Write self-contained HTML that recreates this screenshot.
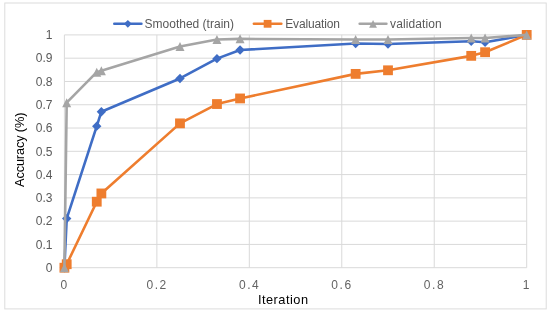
<!DOCTYPE html>
<html><head><meta charset="utf-8"><title>Accuracy chart</title>
<style>
html,body{margin:0;padding:0;background:#fff;}
body{width:550px;height:314px;overflow:hidden;}
svg{display:block;font-family:"Liberation Sans",sans-serif;}
</style></head><body>
<svg width="550" height="314" viewBox="0 0 550 314">
<rect x="0" y="0" width="550" height="314" fill="#ffffff"/>
<rect x="4.8" y="3" width="541.4" height="305.9" fill="#ffffff" stroke="#DCDCDC" stroke-width="1"/>
<line x1="64.40" y1="267.70" x2="526.70" y2="267.70" stroke="#D9D9D9" stroke-width="1"/>
<line x1="64.40" y1="244.42" x2="526.70" y2="244.42" stroke="#D9D9D9" stroke-width="1"/>
<line x1="64.40" y1="221.14" x2="526.70" y2="221.14" stroke="#D9D9D9" stroke-width="1"/>
<line x1="64.40" y1="197.86" x2="526.70" y2="197.86" stroke="#D9D9D9" stroke-width="1"/>
<line x1="64.40" y1="174.58" x2="526.70" y2="174.58" stroke="#D9D9D9" stroke-width="1"/>
<line x1="64.40" y1="151.30" x2="526.70" y2="151.30" stroke="#D9D9D9" stroke-width="1"/>
<line x1="64.40" y1="128.02" x2="526.70" y2="128.02" stroke="#D9D9D9" stroke-width="1"/>
<line x1="64.40" y1="104.74" x2="526.70" y2="104.74" stroke="#D9D9D9" stroke-width="1"/>
<line x1="64.40" y1="81.46" x2="526.70" y2="81.46" stroke="#D9D9D9" stroke-width="1"/>
<line x1="64.40" y1="58.18" x2="526.70" y2="58.18" stroke="#D9D9D9" stroke-width="1"/>
<line x1="64.40" y1="34.90" x2="526.70" y2="34.90" stroke="#D9D9D9" stroke-width="1"/>
<line x1="64.40" y1="34.90" x2="64.40" y2="267.70" stroke="#D9D9D9" stroke-width="1"/>
<line x1="156.86" y1="34.90" x2="156.86" y2="267.70" stroke="#D9D9D9" stroke-width="1"/>
<line x1="249.32" y1="34.90" x2="249.32" y2="267.70" stroke="#D9D9D9" stroke-width="1"/>
<line x1="341.78" y1="34.90" x2="341.78" y2="267.70" stroke="#D9D9D9" stroke-width="1"/>
<line x1="434.24" y1="34.90" x2="434.24" y2="267.70" stroke="#D9D9D9" stroke-width="1"/>
<line x1="526.70" y1="34.90" x2="526.70" y2="267.70" stroke="#D9D9D9" stroke-width="1"/>
<polyline points="64.40,267.70 66.71,218.58 96.76,126.16 101.38,111.72 179.98,78.43 216.96,58.65 240.07,50.03 355.65,43.51 388.01,43.98 471.22,41.30 485.09,42.19 526.70,34.90" fill="none" stroke="#3F6DC5" stroke-width="2.6" stroke-linejoin="round" stroke-linecap="round"/>
<polygon points="64.40,263.00 69.10,267.70 64.40,272.40 59.70,267.70" fill="#3F6DC5"/>
<polygon points="66.71,213.88 71.41,218.58 66.71,223.28 62.01,218.58" fill="#3F6DC5"/>
<polygon points="96.76,121.46 101.46,126.16 96.76,130.86 92.06,126.16" fill="#3F6DC5"/>
<polygon points="101.38,107.02 106.08,111.72 101.38,116.42 96.68,111.72" fill="#3F6DC5"/>
<polygon points="179.98,73.73 184.68,78.43 179.98,83.13 175.28,78.43" fill="#3F6DC5"/>
<polygon points="216.96,53.95 221.66,58.65 216.96,63.35 212.26,58.65" fill="#3F6DC5"/>
<polygon points="240.07,45.33 244.77,50.03 240.07,54.73 235.37,50.03" fill="#3F6DC5"/>
<polygon points="355.65,38.81 360.35,43.51 355.65,48.21 350.95,43.51" fill="#3F6DC5"/>
<polygon points="388.01,39.28 392.71,43.98 388.01,48.68 383.31,43.98" fill="#3F6DC5"/>
<polygon points="471.22,36.60 475.92,41.30 471.22,46.00 466.52,41.30" fill="#3F6DC5"/>
<polygon points="485.09,37.49 489.79,42.19 485.09,46.89 480.39,42.19" fill="#3F6DC5"/>
<polygon points="526.70,30.20 531.40,34.90 526.70,39.60 522.00,34.90" fill="#3F6DC5"/>
<polyline points="64.40,267.70 66.71,264.21 96.76,201.70 101.38,193.44 179.98,123.36 216.96,104.04 240.07,98.45 355.65,73.89 388.01,70.29 471.22,55.85 485.09,52.20 526.70,34.90" fill="none" stroke="#EE7D2E" stroke-width="2.6" stroke-linejoin="round" stroke-linecap="round"/>
<rect x="59.50" y="262.80" width="9.80" height="9.80" fill="#EE7D2E"/>
<rect x="61.81" y="259.31" width="9.80" height="9.80" fill="#EE7D2E"/>
<rect x="91.86" y="196.80" width="9.80" height="9.80" fill="#EE7D2E"/>
<rect x="96.48" y="188.54" width="9.80" height="9.80" fill="#EE7D2E"/>
<rect x="175.08" y="118.46" width="9.80" height="9.80" fill="#EE7D2E"/>
<rect x="212.06" y="99.14" width="9.80" height="9.80" fill="#EE7D2E"/>
<rect x="235.17" y="93.55" width="9.80" height="9.80" fill="#EE7D2E"/>
<rect x="350.75" y="68.99" width="9.80" height="9.80" fill="#EE7D2E"/>
<rect x="383.11" y="65.39" width="9.80" height="9.80" fill="#EE7D2E"/>
<rect x="466.32" y="50.95" width="9.80" height="9.80" fill="#EE7D2E"/>
<rect x="480.19" y="47.30" width="9.80" height="9.80" fill="#EE7D2E"/>
<rect x="521.80" y="30.00" width="9.80" height="9.80" fill="#EE7D2E"/>
<polyline points="64.40,267.70 66.71,102.64 96.76,72.15 101.38,70.75 179.98,46.54 216.96,39.56 240.07,38.86 355.65,39.44 388.01,39.44 471.22,37.93 485.09,37.93 526.70,34.90" fill="none" stroke="#A5A5A5" stroke-width="2.6" stroke-linejoin="round" stroke-linecap="round"/>
<polygon points="64.40,263.20 68.90,272.20 59.90,272.20" fill="#A5A5A5"/>
<polygon points="66.71,98.14 71.21,107.14 62.21,107.14" fill="#A5A5A5"/>
<polygon points="96.76,67.65 101.26,76.65 92.26,76.65" fill="#A5A5A5"/>
<polygon points="101.38,66.25 105.88,75.25 96.88,75.25" fill="#A5A5A5"/>
<polygon points="179.98,42.04 184.48,51.04 175.48,51.04" fill="#A5A5A5"/>
<polygon points="216.96,35.06 221.46,44.06 212.46,44.06" fill="#A5A5A5"/>
<polygon points="240.07,34.36 244.57,43.36 235.57,43.36" fill="#A5A5A5"/>
<polygon points="355.65,34.94 360.15,43.94 351.15,43.94" fill="#A5A5A5"/>
<polygon points="388.01,34.94 392.51,43.94 383.51,43.94" fill="#A5A5A5"/>
<polygon points="471.22,33.43 475.72,42.43 466.72,42.43" fill="#A5A5A5"/>
<polygon points="485.09,33.43 489.59,42.43 480.59,42.43" fill="#A5A5A5"/>
<polygon points="526.70,30.40 531.20,39.40 522.20,39.40" fill="#A5A5A5"/>
<line x1="114.3" y1="23.8" x2="141.4" y2="23.8" stroke="#3F6DC5" stroke-width="2.6" stroke-linecap="round"/>
<polygon points="127.85,19.90 131.75,23.80 127.85,27.70 123.95,23.80" fill="#3F6DC5"/>
<line x1="253.9" y1="23.8" x2="281.3" y2="23.8" stroke="#EE7D2E" stroke-width="2.6" stroke-linecap="round"/>
<rect x="263.70" y="19.90" width="7.80" height="7.80" fill="#EE7D2E"/>
<line x1="359.7" y1="23.8" x2="386.4" y2="23.8" stroke="#A5A5A5" stroke-width="2.6" stroke-linecap="round"/>
<polygon points="373.05,19.90 376.95,27.70 369.15,27.70" fill="#A5A5A5"/>
<text x="144.5" y="27.6" font-size="12" fill="#595959" text-anchor="start" textLength="89.5" lengthAdjust="spacing">Smoothed (train)</text>
<text x="285.2" y="27.6" font-size="12" fill="#595959" text-anchor="start" textLength="54.7" lengthAdjust="spacing">Evaluation</text>
<text x="390.1" y="27.6" font-size="12" fill="#595959" text-anchor="start" textLength="51.7" lengthAdjust="spacing">validation</text>
<text x="52.4" y="272.00" font-size="12" fill="#595959" text-anchor="end">0</text>
<text x="52.4" y="248.72" font-size="12" fill="#595959" text-anchor="end">0.1</text>
<text x="52.4" y="225.44" font-size="12" fill="#595959" text-anchor="end">0.2</text>
<text x="52.4" y="202.16" font-size="12" fill="#595959" text-anchor="end">0.3</text>
<text x="52.4" y="178.88" font-size="12" fill="#595959" text-anchor="end">0.4</text>
<text x="52.4" y="155.60" font-size="12" fill="#595959" text-anchor="end">0.5</text>
<text x="52.4" y="132.32" font-size="12" fill="#595959" text-anchor="end">0.6</text>
<text x="52.4" y="109.04" font-size="12" fill="#595959" text-anchor="end">0.7</text>
<text x="52.4" y="85.76" font-size="12" fill="#595959" text-anchor="end">0.8</text>
<text x="52.4" y="62.48" font-size="12" fill="#595959" text-anchor="end">0.9</text>
<text x="52.4" y="39.20" font-size="12" fill="#595959" text-anchor="end">1</text>
<text x="63.90" y="289.2" font-size="12" fill="#636363" text-anchor="middle">0</text>
<text x="157.16" y="289.2" font-size="12" fill="#636363" text-anchor="middle" letter-spacing="1.6">0.2</text>
<text x="249.62" y="289.2" font-size="12" fill="#636363" text-anchor="middle" letter-spacing="1.6">0.4</text>
<text x="342.08" y="289.2" font-size="12" fill="#636363" text-anchor="middle" letter-spacing="1.6">0.6</text>
<text x="434.54" y="289.2" font-size="12" fill="#636363" text-anchor="middle" letter-spacing="1.6">0.8</text>
<text x="526.20" y="289.2" font-size="12" fill="#636363" text-anchor="middle">1</text>
<text x="257.9" y="303.8" font-size="12.8" fill="#000000" text-anchor="start" textLength="50.2" lengthAdjust="spacing">Iteration</text>
<text transform="translate(24.3,187) rotate(-90)" font-size="12.8" fill="#000000" textLength="74.5" lengthAdjust="spacing">Accuracy (%)</text>
</svg>
</body></html>
